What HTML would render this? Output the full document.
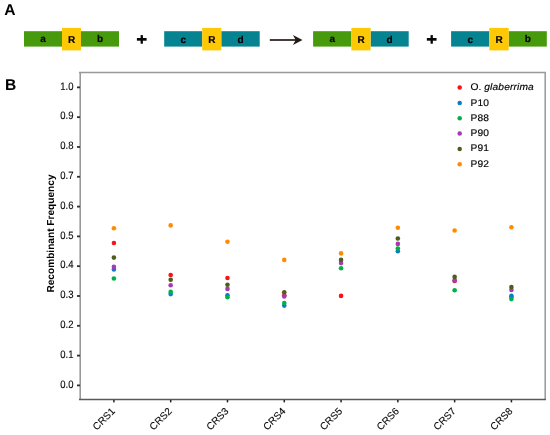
<!DOCTYPE html>
<html><head><meta charset="utf-8"><style>
html,body{margin:0;padding:0;background:#fff;}
svg{display:block;text-rendering:geometricPrecision;}
text{font-family:"Liberation Sans",Arial,sans-serif;}
.lab{font-size:15.6px;font-weight:bold;fill:#000;}
.bl{font-size:10px;font-weight:bold;fill:#000;stroke:#000;stroke-width:0.15px;text-anchor:middle;}
.tk{font-size:10px;fill:#0a0a0a;stroke:#0a0a0a;stroke-width:0.12px;}
.yl{font-size:10.15px;font-weight:bold;fill:#000;}
.lg{font-size:10.25px;fill:#000;stroke:#000;stroke-width:0.15px;}
</style></head><body>
<svg width="550" height="435" viewBox="0 0 550 435">
<rect width="550" height="435" fill="#fff"/>
<text x="4.2" y="14.8" class="lab">A</text>
<rect x="24.0" y="31.2" width="38.00" height="15.4" fill="#479A0C"/>
<rect x="81.0" y="31.2" width="38.00" height="15.4" fill="#479A0C"/>
<rect x="62.0" y="27.9" width="19.00" height="22.5" fill="#FFC805"/>
<text x="43.00" y="41.9" class="bl">a</text>
<text x="71.50" y="42.8" class="bl">R</text>
<text x="100.00" y="41.7" class="bl">b</text>
<rect x="164.2" y="31.2" width="38.00" height="15.4" fill="#058391"/>
<rect x="221.3" y="31.2" width="38.40" height="15.4" fill="#058391"/>
<rect x="202.2" y="27.9" width="19.10" height="22.5" fill="#FFC805"/>
<text x="183.20" y="42.9" class="bl">c</text>
<text x="211.75" y="42.7" class="bl">R</text>
<text x="240.50" y="42.7" class="bl">d</text>
<rect x="313.1" y="31.2" width="38.30" height="15.4" fill="#479A0C"/>
<rect x="370.6" y="31.2" width="38.10" height="15.4" fill="#058391"/>
<rect x="351.4" y="27.9" width="19.20" height="22.5" fill="#FFC805"/>
<text x="332.25" y="42.1" class="bl">a</text>
<text x="361.00" y="43.0" class="bl">R</text>
<text x="389.65" y="42.5" class="bl">d</text>
<rect x="451.1" y="31.2" width="38.20" height="15.4" fill="#058391"/>
<rect x="508.7" y="31.2" width="38.10" height="15.4" fill="#479A0C"/>
<rect x="489.3" y="27.9" width="19.40" height="22.5" fill="#FFC805"/>
<text x="470.20" y="43.0" class="bl">c</text>
<text x="499.00" y="43.0" class="bl">R</text>
<text x="527.75" y="42.1" class="bl">b</text>
<rect x="136.90" y="38.0" width="9.7" height="2.7" fill="#050505"/>
<rect x="140.60" y="35.1" width="2.3" height="8.6" fill="#050505"/>
<rect x="426.85" y="38.0" width="9.7" height="2.7" fill="#050505"/>
<rect x="430.55" y="35.1" width="2.3" height="8.6" fill="#050505"/>
<line x1="269.8" y1="40" x2="298" y2="40" stroke="#231a18" stroke-width="1.7"/>
<path d="M302.5,40.1 L292.9,35.1 L295.7,40 L292.9,44.9 Z" fill="#231a18"/>
<text x="4.9" y="89.5" class="lab">B</text>
<line x1="79" y1="72.5" x2="546" y2="72.5" stroke="#999" stroke-width="1.3"/>
<line x1="545.2" y1="72" x2="545.2" y2="400" stroke="#9e9e9e" stroke-width="1.6"/>
<line x1="80.2" y1="72" x2="80.2" y2="400" stroke="#999" stroke-width="1.6"/>
<line x1="79" y1="399.5" x2="546" y2="399.5" stroke="#5a5a5a" stroke-width="1.3"/>
<rect x="77" y="384.50" width="3" height="1.8" fill="#303030"/>
<text transform="translate(73.5,387.70) scale(0.95,1.07)" class="tk" text-anchor="end">0.0</text>
<rect x="77" y="354.70" width="3" height="1.8" fill="#303030"/>
<text transform="translate(73.5,357.90) scale(0.95,1.07)" class="tk" text-anchor="end">0.1</text>
<rect x="77" y="324.89" width="3" height="1.8" fill="#303030"/>
<text transform="translate(73.5,328.09) scale(0.95,1.07)" class="tk" text-anchor="end">0.2</text>
<rect x="77" y="295.09" width="3" height="1.8" fill="#303030"/>
<text transform="translate(73.5,298.29) scale(0.95,1.07)" class="tk" text-anchor="end">0.3</text>
<rect x="77" y="265.28" width="3" height="1.8" fill="#303030"/>
<text transform="translate(73.5,268.48) scale(0.95,1.07)" class="tk" text-anchor="end">0.4</text>
<rect x="77" y="235.48" width="3" height="1.8" fill="#303030"/>
<text transform="translate(73.5,238.68) scale(0.95,1.07)" class="tk" text-anchor="end">0.5</text>
<rect x="77" y="205.68" width="3" height="1.8" fill="#303030"/>
<text transform="translate(73.5,208.88) scale(0.95,1.07)" class="tk" text-anchor="end">0.6</text>
<rect x="77" y="175.87" width="3" height="1.8" fill="#303030"/>
<text transform="translate(73.5,179.07) scale(0.95,1.07)" class="tk" text-anchor="end">0.7</text>
<rect x="77" y="146.07" width="3" height="1.8" fill="#303030"/>
<text transform="translate(73.5,149.27) scale(0.95,1.07)" class="tk" text-anchor="end">0.8</text>
<rect x="77" y="116.26" width="3" height="1.8" fill="#303030"/>
<text transform="translate(73.5,119.46) scale(0.95,1.07)" class="tk" text-anchor="end">0.9</text>
<rect x="77" y="86.46" width="3" height="1.8" fill="#303030"/>
<text transform="translate(73.5,89.66) scale(0.95,1.07)" class="tk" text-anchor="end">1.0</text>
<rect x="113.15" y="400" width="1.5" height="2.4" fill="#222"/>
<text transform="translate(115.70,411.8) rotate(-45)" class="tk" text-anchor="end">CRS1</text>
<rect x="169.94" y="400" width="1.5" height="2.4" fill="#222"/>
<text transform="translate(172.49,411.8) rotate(-45)" class="tk" text-anchor="end">CRS2</text>
<rect x="226.73" y="400" width="1.5" height="2.4" fill="#222"/>
<text transform="translate(229.28,411.8) rotate(-45)" class="tk" text-anchor="end">CRS3</text>
<rect x="283.52" y="400" width="1.5" height="2.4" fill="#222"/>
<text transform="translate(286.07,411.8) rotate(-45)" class="tk" text-anchor="end">CRS4</text>
<rect x="340.31" y="400" width="1.5" height="2.4" fill="#222"/>
<text transform="translate(342.86,411.8) rotate(-45)" class="tk" text-anchor="end">CRS5</text>
<rect x="397.10" y="400" width="1.5" height="2.4" fill="#222"/>
<text transform="translate(399.65,411.8) rotate(-45)" class="tk" text-anchor="end">CRS6</text>
<rect x="453.89" y="400" width="1.5" height="2.4" fill="#222"/>
<text transform="translate(456.44,411.8) rotate(-45)" class="tk" text-anchor="end">CRS7</text>
<rect x="510.68" y="400" width="1.5" height="2.4" fill="#222"/>
<text transform="translate(513.23,411.8) rotate(-45)" class="tk" text-anchor="end">CRS8</text>
<text transform="translate(54.3,233.5) rotate(-90)" class="yl" text-anchor="middle">Recombinant Frequency</text>
<circle cx="113.90" cy="243.00" r="2.3" fill="#F8131B"/>
<circle cx="113.90" cy="269.40" r="2.3" fill="#0A7DC5"/>
<circle cx="113.90" cy="278.50" r="2.3" fill="#03AF47"/>
<circle cx="113.90" cy="266.90" r="2.3" fill="#A53AB2"/>
<circle cx="113.90" cy="257.60" r="2.3" fill="#505C1E"/>
<circle cx="113.90" cy="228.20" r="2.3" fill="#FF8C00"/>
<circle cx="170.69" cy="275.00" r="2.3" fill="#F8131B"/>
<circle cx="170.69" cy="294.10" r="2.3" fill="#0A7DC5"/>
<circle cx="170.69" cy="291.90" r="2.3" fill="#03AF47"/>
<circle cx="170.69" cy="285.30" r="2.3" fill="#A53AB2"/>
<circle cx="170.69" cy="279.70" r="2.3" fill="#505C1E"/>
<circle cx="170.69" cy="225.40" r="2.3" fill="#FF8C00"/>
<circle cx="227.48" cy="278.00" r="2.3" fill="#F8131B"/>
<circle cx="227.48" cy="295.30" r="2.3" fill="#0A7DC5"/>
<circle cx="227.48" cy="297.30" r="2.3" fill="#03AF47"/>
<circle cx="227.48" cy="288.90" r="2.3" fill="#A53AB2"/>
<circle cx="227.48" cy="284.70" r="2.3" fill="#505C1E"/>
<circle cx="227.48" cy="241.80" r="2.3" fill="#FF8C00"/>
<circle cx="284.27" cy="295.20" r="2.3" fill="#F8131B"/>
<circle cx="284.27" cy="305.60" r="2.3" fill="#0A7DC5"/>
<circle cx="284.27" cy="303.00" r="2.3" fill="#03AF47"/>
<circle cx="284.27" cy="296.40" r="2.3" fill="#A53AB2"/>
<circle cx="284.27" cy="292.20" r="2.3" fill="#505C1E"/>
<circle cx="284.27" cy="259.90" r="2.3" fill="#FF8C00"/>
<circle cx="341.06" cy="295.90" r="2.3" fill="#F8131B"/>
<circle cx="341.06" cy="268.30" r="2.3" fill="#03AF47"/>
<circle cx="341.06" cy="263.10" r="2.3" fill="#A53AB2"/>
<circle cx="341.06" cy="259.90" r="2.3" fill="#505C1E"/>
<circle cx="341.06" cy="253.40" r="2.3" fill="#FF8C00"/>
<circle cx="397.85" cy="251.30" r="2.3" fill="#0A7DC5"/>
<circle cx="397.85" cy="248.50" r="2.3" fill="#03AF47"/>
<circle cx="397.85" cy="243.90" r="2.3" fill="#A53AB2"/>
<circle cx="397.85" cy="238.50" r="2.3" fill="#505C1E"/>
<circle cx="397.85" cy="227.80" r="2.3" fill="#FF8C00"/>
<circle cx="454.64" cy="280.90" r="2.3" fill="#F8131B"/>
<circle cx="454.64" cy="290.30" r="2.3" fill="#03AF47"/>
<circle cx="454.64" cy="280.40" r="2.3" fill="#A53AB2"/>
<circle cx="454.64" cy="276.90" r="2.3" fill="#505C1E"/>
<circle cx="454.64" cy="230.50" r="2.3" fill="#FF8C00"/>
<circle cx="511.43" cy="297.00" r="2.3" fill="#F8131B"/>
<circle cx="511.43" cy="295.90" r="2.3" fill="#0A7DC5"/>
<circle cx="511.43" cy="299.10" r="2.3" fill="#03AF47"/>
<circle cx="511.43" cy="289.90" r="2.3" fill="#A53AB2"/>
<circle cx="511.43" cy="287.00" r="2.3" fill="#505C1E"/>
<circle cx="511.43" cy="227.30" r="2.3" fill="#FF8C00"/>
<circle cx="459.7" cy="87.6" r="2.25" fill="#F8131B"/>
<text transform="translate(470.6,90.15) scale(1,0.94)" class="lg">O. <tspan font-style="italic" letter-spacing="0.12">glaberrima</tspan></text>
<circle cx="459.7" cy="103.0" r="2.25" fill="#0A7DC5"/>
<text transform="translate(470.6,105.55) scale(1,0.94)" class="lg">P10</text>
<circle cx="459.7" cy="118.3" r="2.25" fill="#03AF47"/>
<text transform="translate(470.6,120.85) scale(1,0.94)" class="lg">P88</text>
<circle cx="459.7" cy="133.6" r="2.25" fill="#A53AB2"/>
<text transform="translate(470.6,136.15) scale(1,0.94)" class="lg">P90</text>
<circle cx="459.7" cy="148.9" r="2.25" fill="#505C1E"/>
<text transform="translate(470.6,151.45) scale(1,0.94)" class="lg">P91</text>
<circle cx="459.7" cy="164.2" r="2.25" fill="#FF8C00"/>
<text transform="translate(470.6,166.75) scale(1,0.94)" class="lg">P92</text>
</svg>
</body></html>
